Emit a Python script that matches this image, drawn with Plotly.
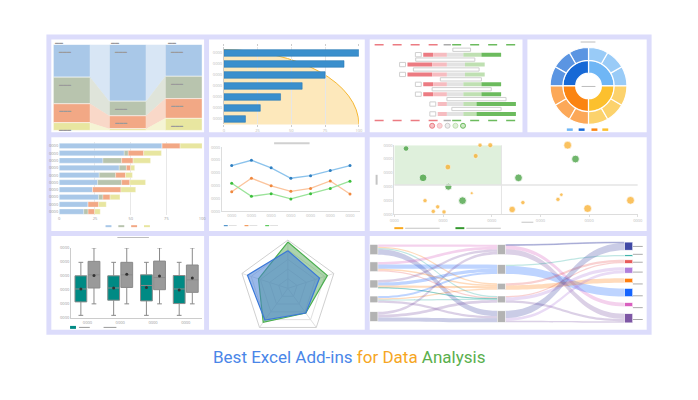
import plotly.graph_objects as go

W, H = 698, 400
def X(p): return p / W
def Y(p): return 1 - p / H

# ---------------- data ----------------
p1_cats = ["A", "B", "C", "D"]
p1_cols = [[38, 31, 22, 9], [66, 17, 15, 2], [37, 26, 23, 14]]
p1_colors = ["#a9c8e8", "#b8c4ae", "#f2a885", "#e8e6a0"]

p2_vals = [100, 89, 75, 58, 42, 27, 16]

p3_rows_y = [67, 97, 127, 157, 187, 217, 247]
p3_start = [178, 130, 130, 178, 178, 222, 222]
p3_red = [208, 205, 205, 208, 208, 222, 222]
p3_pink = [250, 250, 250, 250, 250, 250, 250]
p3_gray = [300, 305, 305, 300, 300, 300, 300]
p3_lgreen = [355, 365, 365, 355, 355, 340, 340]
p3_green = [415, 365, 365, 415, 415, 460, 460]
p3_box_y = [52, 82, 112, 142, 172, 202, 232]
p3_box_x0 = [268, 155, 148, 230, 205, 250, 265]
p3_box_x1 = [322, 335, 348, 355, 385, 430, 415]
p3_seg_colors = ["#ec7b82", "#f6bcc0", "#e3e3e3", "#bfe0b2", "#6cbb5e"]

p4_groups = ["G1", "G2", "G3", "G4"]
p4_colors = ["#6fb6f5", "#1769d6", "#fb8412", "#fcc02e"]
p4_children = [[3, 3, 3], [3, 3, 3], [3, 3, 3], [3, 3, 3]]

p5_blue = [72, 45.5, 30.6, 42, 28, 26.9, 23.4, 27.6, 20.2, 17.2]
p5_olive = [0, 2.8, 13.1, 5, 11.5, 16.8, 0, 3, 0, 3]
p5_orange = [12.6, 10.8, 8, 3, 6.9, 5.7, 19.8, 5, 7.4, 4.6]
p5_yellow = [15.4, 12.4, 12.2, 2.8, 4.8, 11, 10.3, 6.9, 5.3, 3.9]

p6_x = [1, 2, 3, 4, 5, 6, 7]
p6_blue = [3.57, 3.98, 3.39, 2.58, 2.78, 3.19, 3.57]
p6_orange = [1.53, 2.58, 1.99, 1.56, 1.79, 2.37, 1.35]
p6_green = [2.19, 1.17, 1.38, 0.97, 1.38, 1.79, 2.35]

p7_gx = [0.24, 0.59, 1.11, 1.4, 2.55, 3.72]
p7_gy = [4.76, 2.64, 2.0, 0.99, 2.64, 4.0]
p7_gs = [8, 11, 10, 11, 11, 11]
p7_ox = [1.76, 1.97, 1.67, 1.10, 1.59, 0.63, 0.89, 0.80, 1.02, 2.42, 2.64, 3.36, 3.43, 3.56, 3.97, 4.85]
p7_oy = [5.0, 5.0, 4.22, 3.42, 1.53, 0.99, 0.54, 0.21, 0.17, 0.35, 0.85, 1.08, 1.42, 5.0, 0.42, 1.01]
p7_os = [6, 7, 7, 8, 4, 6, 6, 6, 6, 9, 6, 6, 5, 11, 11, 11]

p8_groups = [1, 2, 3, 4]
p8_t = dict(low=[0.19, 0.19, 0.19, 0.19], q1=[1.15, 1.27, 1.22, 1.03], med=[2.07, 2.14, 2.32, 2.07],
            q3=[3.01, 3.01, 3.08, 3.03], up=[3.97, 3.97, 3.97, 3.97], mean=[2.07, 2.14, 2.18, 2.0])
p8_g = dict(low=[1.01, 1.01, 1.01, 1.01], q1=[2.14, 2.18, 2.02, 1.83], med=[3.08, 3.08, 2.89, 2.72],
            q3=[4.04, 3.97, 4.06, 3.78], up=[5.0, 5.0, 5.0, 5.0], mean=[3.03, 3.12, 3.0, 2.86])

p9_axes = ["A", "B", "C", "D", "E"]
p9_blue = [0.78, 0.69, 0.63, 0.81, 0.88]
p9_green = [0.96, 0.86, 0.63, 0.87, 0.64]

p10_right_colors = ["#3f48a5", "#1aa59a", "#e85a5a", "#b07fdb", "#ff7f0e", "#1565ff", "#d95fbf", "#7e57a5"]
p10_src = [0, 0, 0, 0, 1, 1, 1, 1, 2, 2, 2, 2, 3, 3, 3, 3, 4, 4, 4,
           5, 5, 5, 6, 6, 7, 7, 8, 8, 8, 9, 9, 9]
p10_tgt = [9, 8, 7, 5, 5, 6, 7, 8, 6, 7, 5, 8, 6, 7, 9, 8, 5, 8, 9,
           10, 16, 17, 15, 11, 14, 12, 12, 13, 17, 10, 13, 17]
p10_val = [20, 5, 5, 8, 10, 15, 6, 5, 12, 8, 9, 0.5, 8, 5, 8, 4, 10, 11, 15,
           3, 14, 20, 30, 5, 16, 8, 5, 12, 8, 27, 10, 6]
p10_lcol = [0, 1, 4, 6, 6, 5, 4, 2, 5, 4, 7, 1, 5, 4, 7, 1, 7, 7, 0,
            0, 6, 7, 5, 1, 4, 2, 2, 3, 7, 0, 3, 7]

fig = go.Figure()
shapes, annos = [], []
lay = {}

def axes(n, x0, x1, y0, y1, xr=None, yr=None):
    sx = "" if n == 1 else str(n)
    base = dict(showgrid=False, zeroline=False, showticklabels=False, ticks="", showline=False)
    xa = dict(base, domain=[X(x0), X(x1)], anchor="y" + sx)
    ya = dict(base, domain=[Y(y1), Y(y0)], anchor="x" + sx)
    if xr: xa["range"] = xr
    if yr: ya["range"] = yr
    lay["xaxis" + sx] = xa
    lay["yaxis" + sx] = ya
    return "x" + sx, "y" + sx

def hexa(c, a):
    c = c.lstrip("#")
    return f"rgba({int(c[0:2],16)},{int(c[2:4],16)},{int(c[4:6],16)},{a})"

def prect(a, b, c, d, col):
    shapes.append(dict(type="rect", xref="paper", yref="paper", x0=X(a), x1=X(b), y0=Y(d), y1=Y(c),
                       fillcolor=col, line_width=0))

# frame and panels
shapes.append(dict(type="rect", xref="paper", yref="paper", x0=X(42), x1=X(656), y0=Y(336), y1=Y(32),
                   fillcolor="#dcdcfb", line_width=0, layer="below"))
for (a, b, c, d) in [(47, 202, 37, 131), (207, 365, 37, 131), (370, 525, 37, 131), (530, 651, 37, 131),
                     (47, 202, 136, 231), (207, 365, 136, 231), (370, 651, 136, 231),
                     (47, 202, 236, 331), (207, 365, 236, 331), (370, 651, 236, 331)]:
    shapes.append(dict(type="rect", xref="paper", yref="paper", x0=X(a), x1=X(b), y0=Y(d), y1=Y(c),
                       fillcolor="white", line_width=0, layer="below"))

# ---- P1 alluvial
xa, ya = axes(1, 49, 200, 42, 129, [-0.33, 2.33], [100, 0])
bw = 0.66
tops = []
for ci, col in enumerate(p1_cols):
    t, acc = [], 0
    for v in col:
        t.append(acc); acc += v
    tops.append(t)
for ci in range(2):
    for k in range(4):
        a0, a1 = tops[ci][k], tops[ci][k] + p1_cols[ci][k]
        b0, b1 = tops[ci + 1][k], tops[ci + 1][k] + p1_cols[ci + 1][k]
        xs = [ci + bw / 2, ci + 1 - bw / 2, ci + 1 - bw / 2, ci + bw / 2, ci + bw / 2]
        ys = [a0, b0, b1, a1, a0]
        fig.add_trace(go.Scatter(x=xs, y=ys, fill="toself", fillcolor=hexa(p1_colors[k], 0.45),
                                 line=dict(width=0), mode="lines", xaxis=xa, yaxis=ya, hoverinfo="skip"))
for k in range(4):
    fig.add_trace(go.Bar(x=[0, 1, 2], y=[c[k] for c in p1_cols], base=[t[k] for t in tops], width=bw,
                         marker=dict(color=p1_colors[k], line=dict(color="white", width=0.5)),
                         xaxis=xa, yaxis=ya))
for ci in range(3):
    for k in range(4):
        if p1_cols[ci][k] >= 5:
            annos.append(dict(xref=xa, yref=ya, x=ci - 0.27, y=tops[ci][k] + 3, xanchor="left", yanchor="top",
                              text="▬▬▬", showarrow=False, font=dict(size=4, color="#9a9a9a")))
for ci in range(3):
    annos.append(dict(xref="paper", yref="paper", x=X(49 + ci * 57), y=Y(39.5), xanchor="left", yanchor="middle",
                      text="▬▬", showarrow=False, font=dict(size=4, color="#9a9a9a")))

# ---- P2 bars + quarter ellipse
xa, ya = axes(2, 222, 359, 45, 123, [0, 100], [6.5, -0.5])
lay["xaxis2"].update(showgrid=True, gridcolor="#e6e6e6", tickvals=[0, 25, 50, 75, 100], showticklabels=True,
                     tickfont=dict(size=4, color="#bbb"), mirror="allticks", ticks="outside", ticklen=2, tickcolor="#ccc")
lay["yaxis2"].update(showticklabels=True, tickvals=list(range(7)), ticktext=["0000"] * 7,
                     tickfont=dict(size=4, color="#bbb"), showline=True, linecolor="#ccc")
shapes.append(dict(type="circle", xref=xa, yref=ya, x0=-100, x1=100, y0=-0.3, y1=13.3,
                   fillcolor="#fde8bb", line=dict(color="#f5b731", width=1), layer="below"))
fig.add_trace(go.Bar(x=p2_vals, y=list(range(7)), orientation="h", width=0.6,
                     marker=dict(color="#3a8fcd", line=dict(color="#2a78b5", width=0.6)), xaxis=xa, yaxis=ya))

# ---- P3 gantt-like
xa, ya = axes(3, 370, 525, 37, 131, [15, 480], [303, 21])
segs = [p3_start, p3_red, p3_pink, p3_gray, p3_lgreen, p3_green]
for s in range(5):
    st, en = segs[s], segs[s + 1]
    fig.add_trace(go.Bar(x=[e - b for b, e in zip(st, en)], base=st, y=p3_rows_y, orientation="h", width=12,
                         marker=dict(color=p3_seg_colors[s], line=dict(width=0)), xaxis=xa, yaxis=ya))
fig.add_trace(go.Bar(x=[b - a for a, b in zip(p3_box_x0, p3_box_x1)], base=p3_box_x0, y=p3_box_y,
                     orientation="h", width=10, marker=dict(color="white", line=dict(color="#cfcfcf", width=1)),
                     xaxis=xa, yaxis=ya))
fig.add_trace(go.Bar(x=[18] * 7, base=[s - 24 for s in p3_start], y=p3_rows_y, orientation="h", width=13,
                     marker=dict(color="white", line=dict(color="#cfcfcf", width=1)), xaxis=xa, yaxis=ya))
for yy in [37, 267]:
    for (a, b, c) in [(30, 236, "#ec7b82"), (240, 262, "#aaaaaa"), (266, 472, "#6cbb5e")]:
        fig.add_trace(go.Scatter(x=[a, b], y=[yy, yy], mode="lines", line=dict(color=c, width=1.5, dash="dash"),
                                 xaxis=xa, yaxis=ya))
fig.add_trace(go.Scatter(x=[205, 228, 252, 276, 299], y=[283] * 5, mode="markers",
                         marker=dict(size=5, color=["#f6c2c5", "#f8d4d6", "#eeeeee", "#dff0d8", "#cfe8c6"],
                                     line=dict(color=["#ec7b82", "#f6bcc0", "#cccccc", "#bfe0b2", "#6cbb5e"], width=1)),
                         xaxis=xa, yaxis=ya))

# ---- P4 sunburst
ids, labels, parents, colors, values = ["root"], [""], [""], ["white"], [sum(map(sum, p4_children))]
for g, c, ch in zip(p4_groups, p4_colors, p4_children):
    ids.append(g); labels.append(""); parents.append("root"); colors.append(c); values.append(sum(ch))
    for i, v in enumerate(ch):
        ids.append(f"{g}{i}"); labels.append(""); parents.append(g); colors.append(c); values.append(v)
fig.add_trace(go.Sunburst(ids=ids, labels=labels, parents=parents, values=values, branchvalues="total",
                          sort=False, rotation=0, marker=dict(colors=colors, line=dict(color="white", width=1.2)),
                          domain=dict(x=[X(553), X(631)], y=[Y(123), Y(45)]), hoverinfo="skip", textinfo="none"))
for xx, c in zip([573, 585, 598, 609], p4_colors):
    prect(xx - 3, xx + 3, 127, 129.5, c)
prect(584, 599, 39, 40, "#bbbbbb")
prect(585, 599, 84, 85, "#bbbbbb")

# ---- P5 stacked horizontal bars
xa, ya = axes(5, 55, 200, 141, 215, [0, 100], [9.5, -0.5])
lay["xaxis5"].update(showgrid=True, gridcolor="#e8e8e8", tickvals=[0, 25, 50, 75, 100], showticklabels=True,
                     tickfont=dict(size=4, color="#999"))
lay["yaxis5"].update(showticklabels=True, tickvals=list(range(10)), ticktext=["0000"] * 10,
                     tickfont=dict(size=4, color="#999"))
acc = [0] * 10
for vals, c in zip([p5_blue, p5_olive, p5_orange, p5_yellow], p1_colors):
    fig.add_trace(go.Bar(x=vals, y=list(range(10)), base=acc[:], orientation="h", width=0.72,
                         marker=dict(color=c, line=dict(color="white", width=0.3)), xaxis=xa, yaxis=ya))
    acc = [a + v for a, v in zip(acc, vals)]
for xx, c in zip([105, 118, 131, 144], p1_colors):
    prect(xx - 3, xx + 3, 225, 227, c)

# ---- P6 lines
xa, ya = axes(6, 220, 360, 146, 211, [0.5, 7.5], [0, 5])
lay["xaxis6"].update(showline=True, linecolor="#ddd", tickvals=p6_x, showticklabels=True, ticktext=["0000"] * 7,
                     tickfont=dict(size=4, color="#bbb"))
lay["yaxis6"].update(showline=True, linecolor="#ddd", tickvals=[0, 1, 2, 3, 4, 5], showticklabels=True,
                     ticktext=["0000"] * 6, tickfont=dict(size=4, color="#bbb"))
for vals, lc, mc in [(p6_blue, "#8cc3ec", "#2f7fc1"), (p6_orange, "#fbc49d", "#f0883e"), (p6_green, "#9be39a", "#3cbf3c")]:
    fig.add_trace(go.Scatter(x=p6_x, y=vals, mode="lines+markers", line=dict(color=lc, width=1.3),
                             marker=dict(size=3, color=mc), xaxis=xa, yaxis=ya))
prect(273, 309, 141, 143, "#d0d0d0")
for xx, c in [(224, "#2f7fc1"), (245, "#f0883e"), (266, "#3cbf3c")]:
    prect(xx - 2, xx + 2, 225, 226, c)
    prect(xx + 3, xx + 11, 225.2, 225.8, "#cccccc")

# ---- P7 bubbles
xa, ya = axes(7, 395, 642, 144, 214, [0, 5], [0, 5])
lay["xaxis7"].update(showline=True, linecolor="#ddd", tickvals=[0, 1, 2, 3, 4, 5], showticklabels=True,
                     ticktext=["0000"] * 6, tickfont=dict(size=4, color="#bbb"), ticks="outside", ticklen=2, tickcolor="#ddd")
lay["yaxis7"].update(showline=True, linecolor="#ddd", tickvals=[0, 1, 2, 3, 4, 5], showticklabels=True,
                     ticktext=["0000"] * 6, tickfont=dict(size=4, color="#bbb"))
shapes.append(dict(type="rect", xref=xa, yref=ya, x0=0, x1=2.2, y0=2.12, y1=5, fillcolor="#dff0dc",
                   line_width=0, layer="below"))
shapes.append(dict(type="line", xref=xa, yref=ya, x0=0, x1=5, y0=2.12, y1=2.12, line=dict(color="#e4e4e4", width=1.5)))
shapes.append(dict(type="line", xref=xa, yref=ya, x0=2.2, x1=2.2, y0=0, y1=5, line=dict(color="#e4e4e4", width=1)))
fig.add_trace(go.Scatter(x=p7_ox, y=p7_oy, mode="markers", xaxis=xa, yaxis=ya, cliponaxis=False,
                         marker=dict(size=[s * 0.7 for s in p7_os], color="#f9a91e", line=dict(color="white", width=0.6))))
fig.add_trace(go.Scatter(x=p7_gx, y=p7_gy, mode="markers", xaxis=xa, yaxis=ya, cliponaxis=False,
                         marker=dict(size=[s * 0.7 for s in p7_gs], color="#35982f", line=dict(color="white", width=0.8))))
prect(395, 404, 227, 229, "#f9a91e")
prect(406, 441, 227.5, 228.5, "#c4c4c4")
prect(457, 466, 227, 229, "#35982f")
prect(468, 503, 227.5, 228.5, "#c4c4c4")
prect(524, 536, 221.5, 222.5, "#c4c4c4")
prect(376, 378, 174, 184, "#c4c4c4")

# ---- P8 boxes
xa, ya = axes(8, 67, 200, 248, 319, [0.5, 4.5], [0, 5])
lay["xaxis8"].update(showline=True, linecolor="#ccc", tickvals=p8_groups, showticklabels=True,
                     ticktext=["0000"] * 4, tickfont=dict(size=4, color="#999"))
lay["yaxis8"].update(showline=True, linecolor="#ccc", tickvals=[0, 1, 2, 3, 4, 5], showticklabels=True,
                     ticktext=["0000"] * 6, tickfont=dict(size=4, color="#999"))
for d, off, fc in [(p8_t, -0.2, "#008a84"), (p8_g, 0.2, "#9a9a9a")]:
    xs = [g + off for g in p8_groups]
    fig.add_trace(go.Box(x=xs, q1=d["q1"], median=d["med"], q3=d["q3"], lowerfence=d["low"], upperfence=d["up"],
                         width=0.36, fillcolor=fc, line=dict(color="#8a8a8a", width=1), whiskerwidth=0.4,
                         xaxis=xa, yaxis=ya))
    fig.add_trace(go.Scatter(x=xs, y=d["mean"], mode="markers", marker=dict(size=3, color="#333"), xaxis=xa, yaxis=ya))
prect(66, 72, 327, 330, "#008a84")
for a, b in [(75, 86), (100, 113)]:
    prect(a, b, 328, 329, "#999")
prect(114, 146, 237, 238, "#bbb")

# ---- P9 radar
fig.add_trace(go.Scatterpolar(r=p9_green + [p9_green[0]], theta=p9_axes + [p9_axes[0]], fill="toself",
                              fillcolor="rgba(90,170,90,0.5)", line=dict(color="#4caf50", width=1.2), mode="lines"))
fig.add_trace(go.Scatterpolar(r=p9_blue + [p9_blue[0]], theta=p9_axes + [p9_axes[0]], fill="toself",
                              fillcolor="rgba(70,125,215,0.55)", line=dict(color="#3b78d8", width=1.2), mode="lines"))
lay["polar"] = dict(domain=dict(x=[X(238), X(336)], y=[Y(338), Y(240)]), gridshape="linear", bgcolor="white",
                    radialaxis=dict(range=[0, 1], showticklabels=False, ticks="", gridcolor="#e0e0e0", showline=False),
                    angularaxis=dict(rotation=90, direction="clockwise", showticklabels=False, ticks="",
                                     gridcolor="#e0e0e0", linecolor="#d0d0d0"))

# ---- P10 sankey
node_cols = ["#b3b3b3"] * 10 + p10_right_colors
fig.add_trace(go.Sankey(domain=dict(x=[X(374), X(633)], y=[Y(328), Y(241)]), arrangement="fixed",
                        node=dict(pad=6, thickness=8, color=node_cols, line=dict(color="white", width=0.5),
                                  label=[""] * 18,
                                  x=[0.001] * 5 + [0.5] * 5 + [0.999] * 8,
                                  y=[0.1, 0.3, 0.5, 0.68, 0.88, 0.1, 0.33, 0.53, 0.68, 0.88,
                                     0.06, 0.17, 0.24, 0.34, 0.46, 0.6, 0.74, 0.9]),
                        link=dict(source=p10_src, target=p10_tgt, value=p10_val,
                                  color=[hexa(p10_right_colors[i], 0.28) for i in p10_lcol]),
                        hoverinfo="skip"))
for yy in [246, 254, 262, 272, 284, 296, 308, 320]:
    prect(637, 647, yy, yy + 1, "#aaaaaa")

# ---- title
annos.append(dict(xref="paper", yref="paper", x=X(349), y=Y(358), xanchor="center", yanchor="middle",
                  showarrow=False,
                  text="<span style='color:#4a86e8'>Best Excel Add-ins</span> <span style='color:#f6a623'>for Data</span> <span style='color:#5aaf4c'>Analysis</span>",
                  font=dict(family="Roboto", size=17)))

fig.update_layout(autosize=True, margin=dict(l=0, r=0, t=0, b=0), paper_bgcolor="white",
                  plot_bgcolor="rgba(0,0,0,0)", showlegend=False, barmode="overlay", shapes=shapes,
                  annotations=annos, **lay)
fig.write_html("out.html", config={"displayModeBar": False, "responsive": True},
               default_width="100vw", default_height="100vh",
               post_script="document.body.style.margin='0';document.body.style.overflow='hidden';")
